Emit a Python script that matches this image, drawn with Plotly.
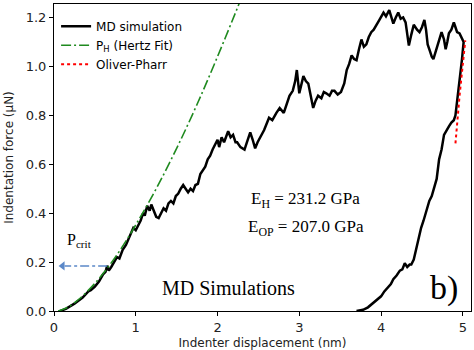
import plotly.graph_objects as go

# ---- data ----
md_x = [0.08, 0.15, 0.25, 0.35, 0.42, 0.45, 0.50, 0.55, 0.60, 0.63, 0.65, 0.67, 0.70, 0.74, 0.77,
        0.80, 0.84, 0.88, 0.92, 0.95, 0.97, 1.00, 1.03, 1.06, 1.09, 1.11, 1.14, 1.17, 1.19, 1.22,
        1.25, 1.28, 1.31, 1.34, 1.37, 1.40, 1.43, 1.46, 1.49, 1.52, 1.55, 1.58, 1.61, 1.64, 1.67,
        1.70, 1.73, 1.76, 1.79, 1.82, 1.85, 1.88, 1.91, 1.94, 1.97, 2.00, 2.02, 2.05, 2.08, 2.11,
        2.13, 2.16, 2.19, 2.22, 2.24, 2.28, 2.33, 2.36, 2.40, 2.43, 2.46, 2.49, 2.52, 2.57, 2.63,
        2.67, 2.72, 2.76, 2.81, 2.85, 2.88, 2.92, 2.95, 2.97, 3.00, 3.05, 3.08, 3.11, 3.14, 3.17,
        3.20, 3.23, 3.27, 3.30, 3.33, 3.37, 3.40, 3.43, 3.47, 3.51, 3.55, 3.58, 3.61, 3.64, 3.67,
        3.70, 3.73, 3.76, 3.79, 3.82, 3.85, 3.88, 3.91, 3.94, 3.98, 4.03, 4.06, 4.10, 4.13, 4.15,
        4.18, 4.21, 4.24, 4.27, 4.30, 4.34, 4.37, 4.40, 4.44, 4.47, 4.50, 4.53, 4.55, 4.57, 4.60,
        4.62, 4.64, 4.67, 4.70, 4.74, 4.77, 4.79, 4.81, 4.83, 4.86, 4.89, 4.91, 4.93, 4.96, 4.98,
        5.01,
        4.99, 4.96, 4.93, 4.91, 4.89, 4.86, 4.83, 4.80, 4.77, 4.74, 4.71, 4.68, 4.65, 4.62, 4.59,
        4.55, 4.52, 4.49, 4.46, 4.43, 4.40, 4.37, 4.35, 4.32, 4.29, 4.26, 4.23, 4.19, 4.15, 4.12,
        4.08, 4.04, 4.00, 3.95, 3.90, 3.84, 3.78, 3.70]
md_y = [0.000, 0.010, 0.030, 0.055, 0.080, 0.085, 0.100, 0.120, 0.150, 0.160, 0.185, 0.165, 0.180, 0.200, 0.220,
        0.215, 0.250, 0.270, 0.300, 0.320, 0.340, 0.330, 0.350, 0.370, 0.400, 0.390, 0.430, 0.410, 0.435, 0.410,
        0.385, 0.380, 0.400, 0.420, 0.410, 0.440, 0.450, 0.440, 0.470, 0.480, 0.500, 0.515, 0.500, 0.485, 0.500,
        0.490, 0.515, 0.520, 0.560, 0.575, 0.590, 0.620, 0.635, 0.660, 0.680, 0.700, 0.670, 0.710, 0.690, 0.720,
        0.735, 0.710, 0.720, 0.690, 0.690, 0.670, 0.660, 0.690, 0.730, 0.700, 0.665, 0.690, 0.710, 0.740, 0.790,
        0.780, 0.810, 0.830, 0.810, 0.850, 0.880, 0.900, 0.940, 0.985, 0.890, 0.960, 0.940, 0.930, 0.880, 0.830,
        0.860, 0.880, 0.870, 0.895, 0.890, 0.880, 0.900, 0.900, 0.885, 0.895, 0.930, 0.985, 1.010, 1.045, 1.030,
        1.025, 1.070, 1.110, 1.080, 1.090, 1.120, 1.140, 1.150, 1.170, 1.190, 1.220, 1.205, 1.230, 1.200, 1.175,
        1.200, 1.220, 1.195, 1.200, 1.180, 1.085, 1.130, 1.170, 1.150, 1.140, 1.160, 1.190, 1.150, 1.090, 1.060,
        1.040, 1.030, 1.065, 1.100, 1.140, 1.110, 1.070, 1.100, 1.135, 1.150, 1.180, 1.160, 1.140, 1.135, 1.120,
        1.100,
        1.030, 0.950, 0.870, 0.800, 0.780, 0.770, 0.755, 0.740, 0.720, 0.660, 0.620, 0.540, 0.500, 0.470, 0.450,
        0.400, 0.370, 0.340, 0.300, 0.250, 0.210, 0.190, 0.190, 0.180, 0.195, 0.170, 0.165, 0.145, 0.130, 0.110,
        0.095, 0.080, 0.060, 0.045, 0.030, 0.015, 0.005, 0.000]

hertz_x = [0.05, 0.15, 0.30, 0.50, 0.75, 1.00, 1.25, 1.50, 1.75, 2.00, 2.25, 2.32]
hertz_y = [0.000, 0.012, 0.047, 0.113, 0.220, 0.352, 0.500, 0.665, 0.845, 1.040, 1.245, 1.305]

op_x = [4.91, 4.96, 5.03]
op_y = [0.685, 0.880, 1.106]

p_crit = 0.184
arrow_x = [0.65, 0.13]
arrow_tip_x = 0.105

fig = go.Figure()
fig.add_trace(go.Scatter(x=md_x, y=md_y, mode="lines", name="MD simulation",
                         line=dict(color="black", width=2.5)))
fig.add_trace(go.Scatter(x=hertz_x, y=hertz_y, mode="lines", name="P<sub>H</sub> (Hertz Fit)",
                         line=dict(color="#1f8a1f", width=1.6, dash="10px,3px,2px,3px", shape="spline")))
fig.add_trace(go.Scatter(x=op_x, y=op_y, mode="lines", name="Oliver-Pharr",
                         line=dict(color="red", width=2, dash="dot")))
fig.add_trace(go.Scatter(x=arrow_x, y=[p_crit, p_crit], mode="lines", showlegend=False,
                         line=dict(color="#5b88c8", width=1.3, dash="dashdot")))
fig.add_trace(go.Scatter(x=[arrow_tip_x], y=[p_crit], mode="markers", showlegend=False,
                         marker=dict(symbol="triangle-left", size=8, color="#5b88c8")))

serif = "Liberation Serif"
fig.add_annotation(x=0.31, y=0.29, text="P<sub>crit</sub>", showarrow=False,
                   font=dict(family=serif, size=16, color="black"))
fig.add_annotation(x=3.08, y=0.453, text="E<sub>H</sub> = 231.2 GPa", showarrow=False,
                   font=dict(family=serif, size=17, color="black"))
fig.add_annotation(x=3.08, y=0.34, text="E<sub>OP</sub> = 207.0 GPa", showarrow=False,
                   font=dict(family=serif, size=17, color="black"))
fig.add_annotation(x=2.14, y=0.094, text="MD Simulations", showarrow=False,
                   font=dict(family=serif, size=20, color="black"))
fig.add_annotation(x=4.77, y=0.094, text="b)", showarrow=False,
                   font=dict(family=serif, size=34, color="black"))

axis_common = dict(showline=True, linecolor="black", linewidth=1, mirror=True,
                   ticks="outside", ticklen=4, tickcolor="black", showgrid=False, zeroline=False,
                   tickfont=dict(family="DejaVu Sans", size=13, color="#222"))
fig.update_xaxes(range=[0, 5.1], tickvals=[0, 1, 2, 3, 4, 5],
                 title=dict(text="Indenter displacement (nm)", standoff=14,
                            font=dict(family="DejaVu Sans", size=12, color="#222")),
                 **axis_common)
fig.update_yaxes(range=[0, 1.255], tickvals=[0, 0.2, 0.4, 0.6, 0.8, 1.0, 1.2], tickformat=".1f",
                 title=dict(text="Indentation force (μN)", standoff=9,
                            font=dict(family="DejaVu Sans", size=12, color="#222")),
                 **axis_common)

fig.update_layout(
    width=474, height=350,
    margin=dict(l=54, r=3, t=4, b=39, autoexpand=False),
    plot_bgcolor="white", paper_bgcolor="white",
    showlegend=True,
    legend=dict(x=0.005, y=0.975, xanchor="left", yanchor="top", bgcolor="rgba(255,255,255,0)",
                font=dict(family="DejaVu Sans", size=12, color="black"),
                itemwidth=30, tracegroupgap=0),
)

fig.write_html("out.html")
